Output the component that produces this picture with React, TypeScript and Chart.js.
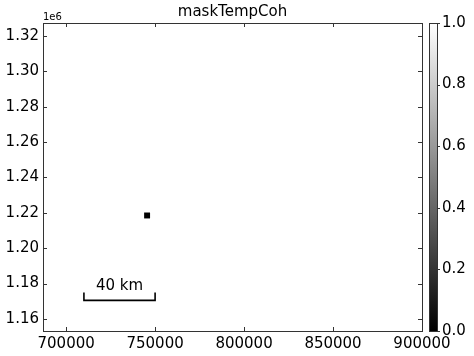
import React, { useEffect, useRef } from "react";
import { Chart, registerables } from "chart.js";
Chart.register(...registerables);

const chartTitle = "maskTempCoh";
const xTicks = [700000, 750000, 800000, 850000, 900000];
const yTicks = [1160000, 1180000, 1200000, 1220000, 1240000, 1260000, 1280000, 1300000, 1320000];
const xRange = [687000, 900000];
const yRange = [1153200, 1327300];
const maskX = [745500];
const maskY = [1218500];
const maskValues = [0];
const scaleBarX = [710000, 750000];
const scaleBarY = 1170500;
const scaleBarTick = 4500;
const scaleBarLabel = "40 km";
const colorbarTicks = [0, 0.2, 0.4, 0.6, 0.8, 1.0];
const yOffsetLabel = "1e6";

const FONT = "DejaVu Sans";
const FS = 15;

const gray = (v: number) => {
  const c = Math.round(v * 255);
  return `rgb(${c},${c},${c})`;
};

const decorPlugin = {
  id: "decor",
  afterDraw(chart: any) {
    const { ctx, chartArea } = chart;
    const { left, right, top, bottom } = chartArea;
    const xs = chart.scales.x;
    const ys = chart.scales.y;
    ctx.save();
    // frame
    ctx.strokeStyle = "#333";
    ctx.lineWidth = 1;
    ctx.strokeRect(Math.round(left) + 0.5, Math.round(top) + 0.5, Math.round(right - left), Math.round(bottom - top));
    // inward ticks
    const tl = 4;
    ctx.beginPath();
    xTicks.forEach((v) => {
      const px = Math.round(xs.getPixelForValue(v)) + 0.5;
      ctx.moveTo(px, bottom);
      ctx.lineTo(px, bottom - tl);
      ctx.moveTo(px, top);
      ctx.lineTo(px, top + tl);
    });
    yTicks.forEach((v) => {
      const py = Math.round(ys.getPixelForValue(v)) + 0.5;
      ctx.moveTo(left, py);
      ctx.lineTo(left + tl, py);
      ctx.moveTo(right, py);
      ctx.lineTo(right - tl, py);
    });
    ctx.stroke();
    // title
    ctx.fillStyle = "#000";
    ctx.font = `${FS}px '${FONT}'`;
    ctx.textAlign = "center";
    ctx.textBaseline = "middle";
    ctx.fillText(chartTitle, (left + right) / 2, 12);
    // offset label
    ctx.font = `10px '${FONT}'`;
    ctx.textAlign = "left";
    ctx.textBaseline = "bottom";
    ctx.fillText(yOffsetLabel, left, top - 1);
    // scale bar label
    const sx = (xs.getPixelForValue(scaleBarX[0]) + xs.getPixelForValue(scaleBarX[1])) / 2;
    const sy = ys.getPixelForValue(scaleBarY + scaleBarTick);
    ctx.font = `${FS}px '${FONT}'`;
    ctx.textAlign = "center";
    ctx.textBaseline = "bottom";
    ctx.fillText(scaleBarLabel, sx, sy + 1);
    // colorbar
    const cbL = 429, cbR = 437;
    const grad = ctx.createLinearGradient(0, bottom, 0, top);
    grad.addColorStop(0, "#000");
    grad.addColorStop(1, "#fff");
    ctx.fillStyle = grad;
    ctx.fillRect(cbL, top, cbR - cbL, bottom - top);
    ctx.strokeStyle = "#333";
    ctx.strokeRect(cbL + 0.5, Math.round(top) + 0.5, cbR - cbL, Math.round(bottom - top));
    ctx.fillStyle = "#000";
    ctx.font = `${FS}px '${FONT}'`;
    ctx.textAlign = "left";
    ctx.textBaseline = "middle";
    ctx.beginPath();
    colorbarTicks.forEach((t) => {
      const py = bottom - t * (bottom - top);
      ctx.moveTo(cbR, Math.round(py) + 0.5);
      ctx.lineTo(cbR + 3, Math.round(py) + 0.5);
      ctx.fillText(t.toFixed(1), cbR + 5, py);
    });
    ctx.stroke();
    ctx.restore();
  },
};

export default function App() {
  const ref = useRef<HTMLCanvasElement>(null);
  useEffect(() => {
    if (!ref.current) return;
    const maskData = maskX.map((x, i) => ({ x, y: maskY[i] }));
    const barData = [
      { x: scaleBarX[0], y: scaleBarY + scaleBarTick },
      { x: scaleBarX[0], y: scaleBarY },
      { x: scaleBarX[1], y: scaleBarY },
      { x: scaleBarX[1], y: scaleBarY + scaleBarTick },
    ];
    const tickFont = { family: FONT, size: FS };
    const chart = new Chart(ref.current, {
      type: "scatter",
      data: {
        datasets: [
          {
            data: maskData,
            pointStyle: "rect",
            pointRadius: 4.2,
            backgroundColor: maskValues.map(gray),
            borderColor: maskValues.map(gray),
            borderWidth: 0,
          },
          {
            data: barData,
            showLine: true,
            borderColor: "#000",
            borderWidth: 1.6,
            pointRadius: 0,
            fill: false,
          },
        ],
      } as any,
      options: {
        animation: false,
        responsive: false,
        events: [],
        layout: { padding: { top: 23, right: 52, left: 0, bottom: 0 } },
        plugins: { legend: { display: false }, title: { display: false }, tooltip: { enabled: false } },
        scales: {
          x: {
            type: "linear",
            min: xRange[0],
            max: xRange[1],
            afterBuildTicks: (s: any) => {
              s.ticks = xTicks.map((v) => ({ value: v }));
            },
            afterFit: (s: any) => {
              s.height = 25;
            },
            grid: { display: false, drawTicks: false },
            border: { display: false },
            ticks: {
              autoSkip: false,
              maxRotation: 0,
              padding: 4,
              color: "#000",
              font: tickFont,
              callback: (v: any) => String(v),
            },
          },
          y: {
            type: "linear",
            min: yRange[0],
            max: yRange[1],
            afterBuildTicks: (s: any) => {
              s.ticks = yTicks.map((v) => ({ value: v }));
            },
            afterFit: (s: any) => {
              s.width = 43;
            },
            grid: { display: false, drawTicks: false },
            border: { display: false },
            ticks: {
              autoSkip: false,
              padding: 4,
              color: "#000",
              font: tickFont,
              callback: (v: any) => (Number(v) / 1e6).toFixed(2),
            },
          },
        },
      } as any,
      plugins: [decorPlugin],
    });
    return () => chart.destroy();
  }, []);
  return (
    <div style={{ position: "absolute", left: 0, top: 0, width: 474, height: 356, background: "#fff" }}>
      <canvas ref={ref} width={474} height={356} style={{ width: 474, height: 356 }} />
    </div>
  );
}
